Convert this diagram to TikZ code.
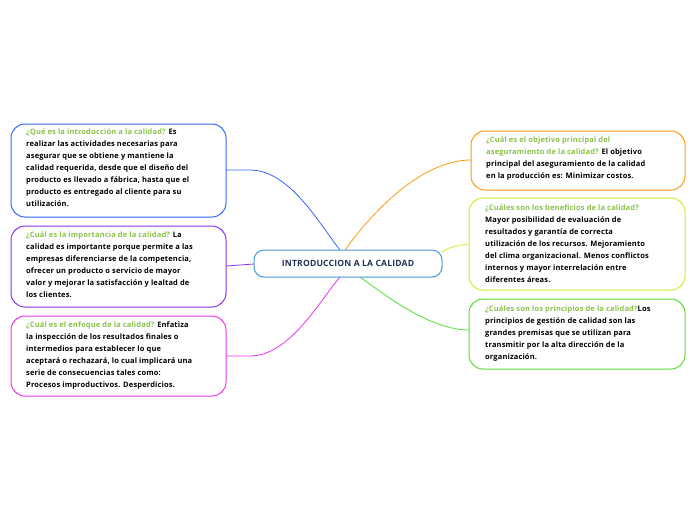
\documentclass[tikz,border=0pt]{standalone}
\usepackage{fontspec}
\setmainfont{Open Sans}[LetterSpace=2]
\definecolor{q}{HTML}{8BC34A}
\definecolor{cb}{HTML}{3366FF}
\definecolor{cp}{HTML}{8833EE}
\definecolor{cm}{HTML}{EE33EE}
\definecolor{co}{HTML}{FF9911}
\definecolor{cy}{HTML}{CCEE33}
\definecolor{cg}{HTML}{55DD33}
\definecolor{cc}{HTML}{4499DD}
\begin{document}
\begin{tikzpicture}[x=1pt,y=-1pt,
 con/.style={draw=#1,line width=0.8pt},
 frame/.style={draw=#1,line width=1pt,rounded corners=14pt,fill=white},
 t/.style={anchor=north west,inner sep=0pt,align=left,font=\fontsize{7.5}{11.9}\selectfont\bfseries}]
\useasboundingbox (0,0) rectangle (696,520);
\coordinate (a1) at (226,170); \coordinate (a2) at (226,266); \coordinate (a3) at (226,356);
\coordinate (b1) at (471,160); \coordinate (b2) at (469,244); \coordinate (b3) at (469,330);
\draw[con=cb] (a1) -- (250,170) .. controls (290,170) and (320,225) .. (340,250);
\draw[con=cp] (a2) -- (254,264);
\draw[con=cm] (a3) -- (250,356) .. controls (290,356) and (320,300) .. (340,277);
\draw[con=co] (b1) .. controls (420,160) and (370,215) .. (345,250);
\draw[con=cy] (b2) .. controls (450,246) and (445,250) .. (442,252);
\draw[con=cg] (b3) .. controls (430,330) and (385,295) .. (360,277);
\draw[frame=cb] (11,124) rectangle (226,217);
\draw[frame=cp] (11,226) rectangle (226,307);
\draw[frame=cm] (11,316) rectangle (226,396);
\draw[frame=co] (471,131) rectangle (685,190);
\draw[frame=cy] (469,198) rectangle (685,290);
\draw[frame=cg] (469,299) rectangle (685,369);
\path[draw=cc,line width=1pt,rounded corners=10pt,fill=white] (254,250) rectangle (442,277);
\node (c) at (348,263.5) {\fontsize{8.6}{10}\selectfont\bfseries\color[HTML]{223355}INTRODUCCION A LA CALIDAD};
\node[t] (l1) at (26,129) {\textcolor{q}{¿Qué es la introducción a la calidad?} Es\\ realizar las actividades necesarias para\\ asegurar que se obtiene y mantiene la\\ calidad requerida, desde que el diseño del\\ producto es llevado a fábrica, hasta que el\\ producto es entregado al cliente para su\\ utilización.};
\node[t] (l2) at (26,232) {\textcolor{q}{¿Cuál es la importancia de la calidad?} La\\ calidad es importante porque permite a las\\ empresas diferenciarse de la competencia,\\ ofrecer un producto o servicio de mayor\\ valor y mejorar la satisfacción y lealtad de\\ los clientes.};
\node[t] (l3) at (26,322) {\textcolor{q}{¿Cuál es el enfoque de la calidad?} Enfatiza\\ la inspección de los resultados finales o\\ intermedios para establecer lo que\\ aceptará o rechazará, lo cual implicará una\\ serie de consecuencias tales como:\\ Procesos improductivos. Desperdicios.};
\node[t] (r1) at (486,137) {\textcolor{q}{¿Cuál es el objetivo principal del}\\ \textcolor{q}{aseguramiento de la calidad?} El objetivo\\ principal del aseguramiento de la calidad\\ en la producción es: Minimizar costos.};
\node[t] (r2) at (485,205) {\textcolor{q}{¿Cuáles son los beneficios de la calidad?}\\ Mayor posibilidad de evaluación de\\ resultados y garantía de correcta\\ utilización de los recursos. Mejoramiento\\ del clima organizacional. Menos conflictos\\ internos y mayor interrelación entre\\ diferentes áreas.};
\node[t] (r3) at (485,306) {\textcolor{q}{¿Cuáles son los principios de la calidad?}Los\\ principios de gestión de calidad son las\\ grandes premisas que se utilizan para\\ transmitir por la alta dirección de la\\ organización.};
\end{tikzpicture}
\end{document}
